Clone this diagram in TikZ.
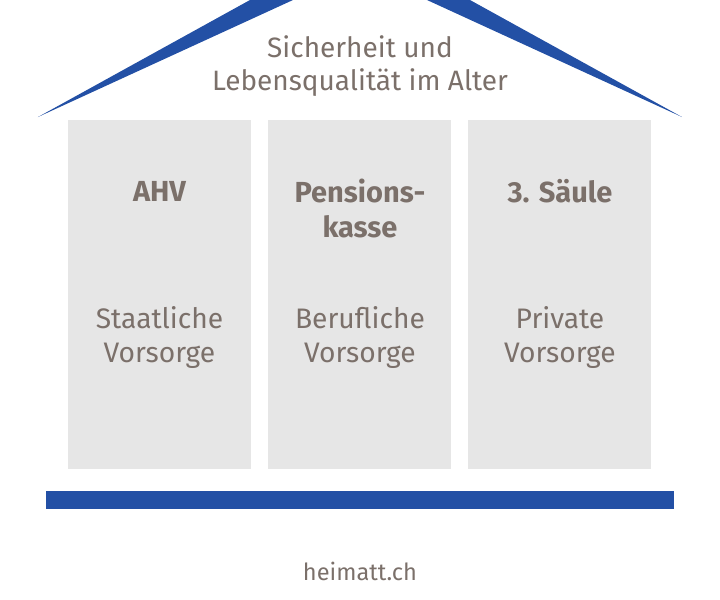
\documentclass[tikz,border=0pt]{standalone}
\usepackage{fontspec}
\setmainfont{Fira Sans}
\definecolor{roofblue}{HTML}{2350A5}
\definecolor{pillargray}{HTML}{E6E6E6}
\definecolor{textbrown}{HTML}{7B706A}
\tikzset{
  pillar/.style={fill=pillargray, minimum width=91.5pt, minimum height=174.5pt, inner sep=0pt},
  pillartext/.style={text=textbrown, font=\fontsize{14.1}{17}\selectfont, align=center},
  pillarhead/.style={pillartext, font=\fontsize{14.5}{17.5}\selectfont\bfseries}
}
\begin{document}
\begin{tikzpicture}[x=0.5pt,y=-0.5pt]
\useasboundingbox (0,0) rectangle (720,600);
\clip (0,0) rectangle (720,600);

% roof
\fill [roofblue] (38,117) -- (250,0) -- (293,0) -- cycle;
\fill [roofblue] (682,117) -- (470,0) -- (427,0) -- cycle;
\node [pillartext, font=\fontsize{14}{16.5}\selectfont] (title) at (360,66) {Sicherheit und\\Lebensqualität im Alter};

% pillars
\node [pillar] (ahv) at (159.5,294.5) {};
\node [pillar] (pk) at (360,294.5) {};
\node [pillar] (saeule) at (560,294.5) {};

\node [pillarhead] (ahvhead) at (ahv.center |- 0,191) {AHV};
\node [pillarhead] (pkhead) at (pk.center |- 0,208.5) {Pensions-\\kasse};
\node [pillarhead] (saeulehead) at (saeule.center |- 0,191) {3. Säule};

\node [pillartext] (ahvtext) at (ahv.center |- 0,337.5) {Staatliche\\Vorsorge};
\node [pillartext] (pktext) at (pk.center |- 0,337.5) {Berufliche\\Vorsorge};
\node [pillartext] (saeuletext) at (saeule.center |- 0,337.5) {Private\\Vorsorge};

% base
\fill [roofblue] (46,491) rectangle (674,509);
\node [pillartext, font=\fontsize{11.8}{14}\selectfont] (web) at (360,571) {heimatt.ch};
\end{tikzpicture}
\end{document}
